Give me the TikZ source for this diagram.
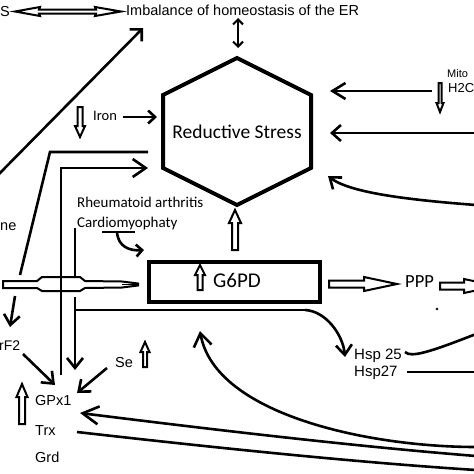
\documentclass[tikz,border=0pt]{standalone}
\usepackage{fontspec}
\setmainfont{Liberation Sans}
\newfontfamily\calfont{Carlito}
\usetikzlibrary{arrows.meta}
\newcommand\holarrow[6]{%
  \begin{scope}[shift={#1},rotate=#2]
  \draw[hol] (0,-#4) -- ({#3-#6},-#4) -- ({#3-#6},-#5) -- (#3,0) -- ({#3-#6},#5) -- ({#3-#6},#4) -- (0,#4) -- cycle;
  \end{scope}}
\begin{document}
\begin{tikzpicture}[x=1pt,y=-1pt,
  ln/.style={line width=2.6pt},
  thick4/.style={line width=4pt, line join=miter},
  hol/.style={line width=2pt, fill=white, line join=miter},
  arr/.style={-{Straight Barb[length=10pt,width=16pt]}},
  arrbig/.style={-{Straight Barb[length=13pt,width=18pt]}},
  arrsmall/.style={-{Straight Barb[length=7pt,width=13pt]}},
  lbl/.style={inner sep=0pt, anchor=base west, font=\fontsize{14.5}{16}\selectfont},
  clbl/.style={inner sep=0pt, anchor=base west, font=\calfont\fontsize{15}{17}\selectfont}]
\useasboundingbox (0,0) rectangle (474,474);
\fill[white] (0,0) rectangle (474,474);
\clip (0,0) rectangle (474,474);

% ---- texts
\node[lbl] (S) at (0,16) {S};
\node[lbl] (imb) at (126,15) {Imbalance of homeostasis of the ER};
\node[inner sep=0pt, anchor=base, font=\calfont\fontsize{19.5}{22}\selectfont] (rs) at (237,138) {Reductive Stress};
\node[clbl, font=\calfont\fontsize{14.5}{16}\selectfont] (iron) at (93,120) {Iron};
\node[clbl] (rheu) at (77,207) {Rheumatoid arthritis};
\node[clbl] (card) at (77,227) {Cardiomyophaty};
\node[lbl] (ne) at (0,230) {ne};
\node[lbl, font=\fontsize{14}{16}\selectfont] (nrf) at (-1,350) {rF2};
\node[inner sep=0pt, anchor=base west, font=\calfont\fontsize{21}{24}\selectfont] (g6) at (213,287) {G6PD};
\node[inner sep=0pt, anchor=base west, font=\calfont\fontsize{18.5}{21}\selectfont] (ppp) at (405,287) {PPP};
\node[lbl, font=\fontsize{15}{17}\selectfont] (hsp25) at (354,359) {Hsp 25};
\node[lbl, font=\fontsize{15}{17}\selectfont] (hsp27) at (354,376) {Hsp27};
\node[lbl] (se) at (115,367) {Se};
\node[lbl] (gpx) at (35,405) {GPx1};
\node[lbl] (trx) at (35,435) {Trx};
\node[lbl] (grd) at (35,462) {Grd};
\node[lbl, font=\fontsize{11}{13}\selectfont] (mito) at (447,77) {Mito};
\node[lbl, font=\fontsize{13}{15}\selectfont] (h2o) at (448,92) {H2C};

% ---- hexagon
\coordinate (h1) at (237,58);
\coordinate (h2) at (311,95);
\coordinate (h3) at (311,168);
\coordinate (h4) at (237,205);
\coordinate (h5) at (163,168);
\coordinate (h6) at (163,95);
\draw[thick4] (h1) -- (h2) -- (h3) -- (h4) -- (h5) -- (h6) -- cycle;

% ---- G6PD box
\node[draw, thick4, minimum width=171pt, minimum height=40pt, inner sep=0pt] (box) at (234.5,282) {};

% ---- top double hollow arrow
\draw[hol] (15,11.5) -- (40,7) -- (39,9.5) -- (96,9.5) -- (95,7) -- (121,11.5) -- (95,16) -- (96,13.5) -- (39,13.5) -- (40,16) -- cycle;
% vertical double arrow
\coordinate (va) at (238,18);
\coordinate (vb) at (238,48);
\draw[line width=2pt, {Straight Barb[length=5pt,width=10pt]}-{Straight Barb[length=5pt,width=10pt]}] (va) -- (vb);

% diagonal
\coordinate (d0) at (-2,175);
\coordinate (d1) at (143,28);
\draw[ln, -{Straight Barb[length=8.5pt,width=17pt]}] (d0) -- (d1);

% iron arrow
\coordinate (ir1) at (123,117);
\coordinate (ir2) at (157,117);
\draw[ln, arrsmall] (ir1) -- (ir2);

% right side arrows into hexagon
\coordinate (m1) at (432,91);
\coordinate (m2) at (330,91);
\draw[ln, -{Straight Barb[length=13pt,width=16pt]}] (m1) -- (m2);
\coordinate (r1) at (476,133);
\coordinate (r2) at (330,133);
\draw[ln, -{Straight Barb[length=9pt,width=16pt]}] (r1) -- (r2);
\coordinate (c1) at (476,205);
\coordinate (c2) at (328,176);
\draw[ln, -{Straight Barb[length=10pt,width=15pt]}] (c1) .. controls (410,200) and (350,193) .. (c2);

% left paths
\coordinate (a0) at (148,152);
\coordinate (a1) at (50,152);
\coordinate (a2) at (20,275);
\draw[ln] (a0) -- (a1) -- (a2);
\coordinate (a3) at (15,296);
\coordinate (a4) at (10,327);
\draw[ln, arr] (a3) -- (a4);

\coordinate (b0) at (61,375);
\coordinate (b1) at (61,168);
\coordinate (b2) at (148,168);

\coordinate (k0) at (75,228);
\coordinate (k1) at (75,276);
\coordinate (k2) at (75,297);
\coordinate (k3) at (75,370);
\coordinate (kj) at (75,310);
\coordinate (k4) at (305,310);
\coordinate (k5) at (345,357);
\draw[ln] (k0) -- (k1);
\draw[ln, arr] (k2) -- (k3);
\draw[ln] (kj) -- (k4);
\draw[ln, arr] (k4) .. controls (326,311) and (343,335) .. (k5);

% band
\draw[hol] (3,281) -- (37,281) -- (42,277) -- (80,277) -- (85,281) -- (122,281.5) -- (138,283.5) -- (138,285.5) -- (122,287.5) -- (85,288) -- (80,291) -- (42,291) -- (37,288) -- (3,288) -- cycle;
\draw[line width=1.4pt] (122,284.5) -- (138,284.5);
\draw[ln, arrbig] (b0) -- (b1) -- (b2);

% cardiomyophaty
\coordinate (cm0) at (102,232);
\coordinate (cm1) at (135,232);
\draw[ln] (cm0) -- (cm1);
\coordinate (cm2) at (117,232);
\coordinate (cm3) at (144,250);
\draw[ln, -{Straight Barb[length=6pt,width=12pt]}] (cm2) .. controls (118,247) and (130,251) .. (cm3);

% into GPx1
\coordinate (n1) at (23,354);
\coordinate (n2) at (55,385);
\draw[ln, arr] (n1) -- (n2);
\coordinate (s1) at (107,368);
\coordinate (s2) at (77,393);
\draw[ln, arr] (s1) -- (s2);

% bottom curves
\coordinate (e0) at (476,447);
\coordinate (e1) at (200,331);
\draw[ln, arrbig] (e0) .. controls (370,447) and (215,415) .. (e1);
\coordinate (f0) at (476,456);
\coordinate (f1) at (80,413);
\draw[ln, -{Straight Barb[length=16pt,width=18pt]}] (f0) .. controls (350,446) and (200,428) .. (f1);
\coordinate (g0) at (77,432);
\coordinate (g1) at (476,470);
\draw[ln] (g0) .. controls (200,446) and (350,462) .. (g1);

% Hsp lines
\coordinate (p0) at (405,352);
\coordinate (p1) at (476,334);
\draw[ln] (p0) .. controls (411,358) and (430,352) .. (p1);
\coordinate (q0) at (407,372);
\coordinate (q1) at (476,372);
\draw[ln] (q0) -- (q1);
\fill (437,309) circle (1.3pt);

% hollow arrows
\holarrow{(80,107)}{-90}{30}{2.5}{5}{11}
\holarrow{(200,290)}{90}{25}{2.5}{5}{10}
\holarrow{(235,250)}{90}{40}{3}{6}{13}
\holarrow{(145,367)}{90}{25}{2}{4.5}{10}
\holarrow{(22,424)}{90}{40}{3}{5.5}{13}
\holarrow{(440,83)}{-90}{29}{1.5}{3.5}{9}
\draw[hol] (329,280.5) -- (364,280.5) -- (364,277) -- (397,284) -- (364,291) -- (364,287.5) -- (329,287.5) -- cycle;
\draw[hol] (440,282.5) -- (464,282.5) -- (464,279) -- (497,286) -- (464,293) -- (464,289.5) -- (440,289.5) -- cycle;
\end{tikzpicture}
\end{document}
